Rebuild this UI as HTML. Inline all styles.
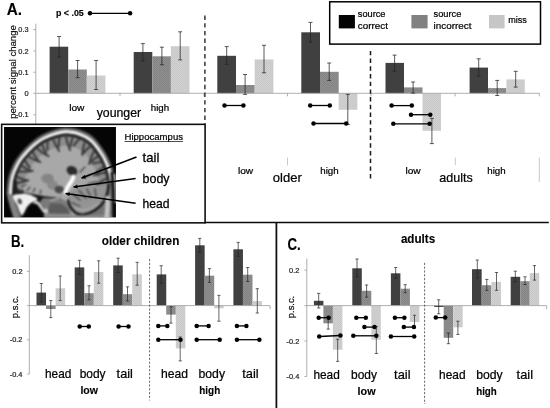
<!DOCTYPE html>
<html lang="en"><head><meta charset="utf-8"><title>Hippocampus figure</title>
<style>html,body{margin:0;padding:0;background:#fff;}svg{display:block;}text{font-family:'Liberation Sans', 'DejaVu Sans', sans-serif;}</style>
</head><body>
<svg width="550" height="408" viewBox="0 0 550 408">
<defs><filter id="b0" x="0" y="0" width="1" height="1" color-interpolation-filters="sRGB"><feConvolveMatrix order="3" kernelMatrix="1 2 1 2 4 2 1 2 1" divisor="16" edgeMode="duplicate" preserveAlpha="true"/></filter><filter id="b1" x="0" y="0" width="1" height="1" color-interpolation-filters="sRGB"><feConvolveMatrix order="3" kernelMatrix="1 2 1 2 4 2 1 2 1" divisor="16" edgeMode="duplicate" preserveAlpha="true"/><feConvolveMatrix order="3" kernelMatrix="1 2 1 2 4 2 1 2 1" divisor="16" edgeMode="duplicate" preserveAlpha="true"/></filter><pattern id="pm" width="2" height="2" patternUnits="userSpaceOnUse"><rect width="2" height="2" fill="#8f8f8f"/><rect width="1" height="1" fill="#848484"/><rect x="1" y="1" width="1" height="1" fill="#848484"/></pattern><pattern id="pl" width="2" height="2" patternUnits="userSpaceOnUse"><rect width="2" height="2" fill="#d1d1d1"/><rect width="1" height="1" fill="#c8c8c8"/><rect x="1" y="1" width="1" height="1" fill="#c8c8c8"/></pattern><clipPath id="mri"><rect x="4.2" y="126.9" width="111.6" height="90.4"/></clipPath><marker id="ah" viewBox="0 0 10 10" refX="9" refY="5" markerUnits="userSpaceOnUse" markerWidth="5" markerHeight="4.4" orient="auto"><path d="M0,0.5 L10,5 L0,9.5 z" fill="#000"/></marker></defs>
<rect x="0" y="0" width="550" height="408" fill="#fff"/>
<rect x="49.60" y="46.70" width="18.60" height="46.60" fill="#404040" />
<rect x="68.20" y="69.50" width="18.60" height="23.80" fill="url(#pm)" />
<rect x="86.80" y="75.50" width="18.60" height="17.80" fill="url(#pl)" />
<rect x="133.70" y="52.00" width="18.60" height="41.30" fill="#404040" />
<rect x="152.30" y="56.30" width="18.60" height="37.00" fill="url(#pm)" />
<rect x="170.90" y="46.20" width="18.60" height="47.10" fill="url(#pl)" />
<rect x="217.30" y="55.80" width="18.70" height="37.50" fill="#404040" />
<rect x="236.00" y="85.00" width="18.70" height="8.30" fill="url(#pm)" />
<rect x="254.70" y="59.40" width="18.70" height="33.90" fill="url(#pl)" />
<rect x="301.30" y="32.30" width="18.70" height="61.00" fill="#404040" />
<rect x="320.00" y="71.80" width="18.70" height="21.50" fill="url(#pm)" />
<rect x="338.70" y="93.30" width="18.70" height="16.50" fill="url(#pl)" />
<rect x="385.50" y="62.90" width="18.50" height="30.40" fill="#404040" />
<rect x="404.00" y="87.40" width="18.50" height="5.90" fill="url(#pm)" />
<rect x="422.50" y="93.30" width="18.50" height="37.50" fill="url(#pl)" />
<rect x="469.60" y="67.60" width="18.40" height="25.70" fill="#404040" />
<rect x="488.00" y="88.10" width="18.40" height="5.20" fill="url(#pm)" />
<rect x="506.40" y="79.40" width="18.40" height="13.90" fill="url(#pl)" />
<line x1="35.80" y1="23.70" x2="35.80" y2="124.20" stroke="#a6a6a6" stroke-width="0.9" />
<line x1="33.30" y1="93.30" x2="539.50" y2="93.30" stroke="#a6a6a6" stroke-width="0.9" />
<line x1="33.30" y1="29.60" x2="35.80" y2="29.60" stroke="#a6a6a6" stroke-width="0.9" />
<line x1="33.30" y1="50.90" x2="35.80" y2="50.90" stroke="#a6a6a6" stroke-width="0.9" />
<line x1="33.30" y1="72.20" x2="35.80" y2="72.20" stroke="#a6a6a6" stroke-width="0.9" />
<line x1="33.30" y1="114.80" x2="35.80" y2="114.80" stroke="#a6a6a6" stroke-width="0.9" />
<line x1="120.00" y1="93.30" x2="120.00" y2="96.30" stroke="#a6a6a6" stroke-width="0.9" />
<line x1="204.00" y1="93.30" x2="204.00" y2="96.30" stroke="#a6a6a6" stroke-width="0.9" />
<line x1="287.50" y1="93.30" x2="287.50" y2="96.30" stroke="#a6a6a6" stroke-width="0.9" />
<line x1="371.00" y1="93.30" x2="371.00" y2="96.30" stroke="#a6a6a6" stroke-width="0.9" />
<line x1="455.10" y1="93.30" x2="455.10" y2="96.30" stroke="#a6a6a6" stroke-width="0.9" />
<line x1="539.30" y1="93.30" x2="539.30" y2="96.30" stroke="#a6a6a6" stroke-width="0.9" />
<line x1="59.10" y1="36.50" x2="59.10" y2="56.90" stroke="#242424" stroke-width="0.75" />
<line x1="57.10" y1="36.50" x2="61.10" y2="36.50" stroke="#242424" stroke-width="0.75" />
<line x1="57.10" y1="56.90" x2="61.10" y2="56.90" stroke="#242424" stroke-width="0.75" />
<line x1="77.60" y1="60.50" x2="77.60" y2="77.70" stroke="#242424" stroke-width="0.75" />
<line x1="75.60" y1="60.50" x2="79.60" y2="60.50" stroke="#242424" stroke-width="0.75" />
<line x1="75.60" y1="77.70" x2="79.60" y2="77.70" stroke="#242424" stroke-width="0.75" />
<line x1="96.10" y1="60.50" x2="96.10" y2="89.50" stroke="#242424" stroke-width="0.75" />
<line x1="94.10" y1="60.50" x2="98.10" y2="60.50" stroke="#242424" stroke-width="0.75" />
<line x1="94.10" y1="89.50" x2="98.10" y2="89.50" stroke="#242424" stroke-width="0.75" />
<line x1="142.90" y1="43.60" x2="142.90" y2="60.90" stroke="#242424" stroke-width="0.75" />
<line x1="140.90" y1="43.60" x2="144.90" y2="43.60" stroke="#242424" stroke-width="0.75" />
<line x1="140.90" y1="60.90" x2="144.90" y2="60.90" stroke="#242424" stroke-width="0.75" />
<line x1="161.90" y1="47.20" x2="161.90" y2="64.80" stroke="#242424" stroke-width="0.75" />
<line x1="159.90" y1="47.20" x2="163.90" y2="47.20" stroke="#242424" stroke-width="0.75" />
<line x1="159.90" y1="64.80" x2="163.90" y2="64.80" stroke="#242424" stroke-width="0.75" />
<line x1="180.20" y1="31.80" x2="180.20" y2="59.90" stroke="#242424" stroke-width="0.75" />
<line x1="178.20" y1="31.80" x2="182.20" y2="31.80" stroke="#242424" stroke-width="0.75" />
<line x1="178.20" y1="59.90" x2="182.20" y2="59.90" stroke="#242424" stroke-width="0.75" />
<line x1="226.70" y1="46.60" x2="226.70" y2="64.30" stroke="#242424" stroke-width="0.75" />
<line x1="224.70" y1="46.60" x2="228.70" y2="46.60" stroke="#242424" stroke-width="0.75" />
<line x1="224.70" y1="64.30" x2="228.70" y2="64.30" stroke="#242424" stroke-width="0.75" />
<line x1="245.10" y1="74.50" x2="245.10" y2="94.40" stroke="#242424" stroke-width="0.75" />
<line x1="243.10" y1="74.50" x2="247.10" y2="74.50" stroke="#242424" stroke-width="0.75" />
<line x1="243.10" y1="94.40" x2="247.10" y2="94.40" stroke="#242424" stroke-width="0.75" />
<line x1="264.00" y1="45.30" x2="264.00" y2="72.80" stroke="#242424" stroke-width="0.75" />
<line x1="262.00" y1="45.30" x2="266.00" y2="45.30" stroke="#242424" stroke-width="0.75" />
<line x1="262.00" y1="72.80" x2="266.00" y2="72.80" stroke="#242424" stroke-width="0.75" />
<line x1="310.50" y1="22.40" x2="310.50" y2="42.10" stroke="#242424" stroke-width="0.75" />
<line x1="308.50" y1="22.40" x2="312.50" y2="22.40" stroke="#242424" stroke-width="0.75" />
<line x1="308.50" y1="42.10" x2="312.50" y2="42.10" stroke="#242424" stroke-width="0.75" />
<line x1="329.20" y1="63.00" x2="329.20" y2="80.40" stroke="#242424" stroke-width="0.75" />
<line x1="327.20" y1="63.00" x2="331.20" y2="63.00" stroke="#242424" stroke-width="0.75" />
<line x1="327.20" y1="80.40" x2="331.20" y2="80.40" stroke="#242424" stroke-width="0.75" />
<line x1="347.80" y1="94.40" x2="347.80" y2="124.50" stroke="#242424" stroke-width="0.75" />
<line x1="345.80" y1="94.40" x2="349.80" y2="94.40" stroke="#242424" stroke-width="0.75" />
<line x1="345.80" y1="124.50" x2="349.80" y2="124.50" stroke="#242424" stroke-width="0.75" />
<line x1="394.60" y1="55.10" x2="394.60" y2="71.30" stroke="#242424" stroke-width="0.75" />
<line x1="392.60" y1="55.10" x2="396.60" y2="55.10" stroke="#242424" stroke-width="0.75" />
<line x1="392.60" y1="71.30" x2="396.60" y2="71.30" stroke="#242424" stroke-width="0.75" />
<line x1="413.10" y1="82.00" x2="413.10" y2="93.10" stroke="#242424" stroke-width="0.75" />
<line x1="411.10" y1="82.00" x2="415.10" y2="82.00" stroke="#242424" stroke-width="0.75" />
<line x1="411.10" y1="93.10" x2="415.10" y2="93.10" stroke="#242424" stroke-width="0.75" />
<line x1="431.90" y1="118.40" x2="431.90" y2="143.60" stroke="#242424" stroke-width="0.75" />
<line x1="429.90" y1="118.40" x2="433.90" y2="118.40" stroke="#242424" stroke-width="0.75" />
<line x1="429.90" y1="143.60" x2="433.90" y2="143.60" stroke="#242424" stroke-width="0.75" />
<line x1="478.70" y1="58.80" x2="478.70" y2="76.00" stroke="#242424" stroke-width="0.75" />
<line x1="476.70" y1="58.80" x2="480.70" y2="58.80" stroke="#242424" stroke-width="0.75" />
<line x1="476.70" y1="76.00" x2="480.70" y2="76.00" stroke="#242424" stroke-width="0.75" />
<line x1="497.20" y1="80.40" x2="497.20" y2="95.50" stroke="#242424" stroke-width="0.75" />
<line x1="495.20" y1="80.40" x2="499.20" y2="80.40" stroke="#242424" stroke-width="0.75" />
<line x1="495.20" y1="95.50" x2="499.20" y2="95.50" stroke="#242424" stroke-width="0.75" />
<line x1="515.70" y1="71.30" x2="515.70" y2="87.10" stroke="#242424" stroke-width="0.75" />
<line x1="513.70" y1="71.30" x2="517.70" y2="71.30" stroke="#242424" stroke-width="0.75" />
<line x1="513.70" y1="87.10" x2="517.70" y2="87.10" stroke="#242424" stroke-width="0.75" />
<text x="28.60" y="32.20" font-size="7.4" font-weight="normal" fill="#262626" text-anchor="end"  stroke="#262626" stroke-width="0.22">0.3</text>
<text x="28.60" y="53.50" font-size="7.4" font-weight="normal" fill="#262626" text-anchor="end"  stroke="#262626" stroke-width="0.22">0.2</text>
<text x="28.60" y="74.80" font-size="7.4" font-weight="normal" fill="#262626" text-anchor="end"  stroke="#262626" stroke-width="0.22">0.1</text>
<text x="28.60" y="96.00" font-size="7.4" font-weight="normal" fill="#262626" text-anchor="end"  stroke="#262626" stroke-width="0.22">0</text>
<text x="28.60" y="117.40" font-size="7.4" font-weight="normal" fill="#262626" text-anchor="end"  stroke="#262626" stroke-width="0.22">-0.1</text>
<text transform="translate(15.6,72) rotate(-90)" font-size="9.3" text-anchor="middle" textLength="93.6" lengthAdjust="spacingAndGlyphs" fill="#111" stroke="#111" stroke-width="0.2">percent signal change</text>
<text x="6.70" y="14.70" font-size="15.8" font-weight="bold" fill="#000" text-anchor="start" textLength="15.30" lengthAdjust="spacingAndGlyphs"  stroke="#000" stroke-width="0.12">A.</text>
<text x="55.90" y="16.40" font-size="8.3" font-weight="bold" fill="#000" text-anchor="start" textLength="27.90" lengthAdjust="spacingAndGlyphs"  stroke="#000" stroke-width="0.12">p &lt; .05</text>
<line x1="90.00" y1="13.30" x2="130.10" y2="13.30" stroke="#000" stroke-width="1.3" />
<circle cx="90.00" cy="13.30" r="2.25" fill="#000"/>
<circle cx="130.10" cy="13.30" r="2.25" fill="#000"/>
<line x1="204.90" y1="15.50" x2="204.90" y2="124.00" stroke="#363636" stroke-width="1.5" stroke-dasharray="4.4 3.3"/>
<line x1="370.50" y1="50.90" x2="370.50" y2="181.50" stroke="#1a1a1a" stroke-width="1.5" stroke-dasharray="4.4 3.3"/>
<text x="76.80" y="110.60" font-size="9.7" font-weight="normal" fill="#000" text-anchor="middle" textLength="15.20" lengthAdjust="spacingAndGlyphs"  stroke="#000" stroke-width="0.22">low</text>
<text x="160.00" y="110.60" font-size="9.7" font-weight="normal" fill="#000" text-anchor="middle" textLength="18.40" lengthAdjust="spacingAndGlyphs"  stroke="#000" stroke-width="0.22">high</text>
<text x="118.90" y="117.40" font-size="13" font-weight="normal" fill="#000" text-anchor="middle" textLength="44.50" lengthAdjust="spacingAndGlyphs"  stroke="#000" stroke-width="0.22">younger</text>
<text x="245.50" y="174.00" font-size="9.7" font-weight="normal" fill="#000" text-anchor="middle" textLength="15.20" lengthAdjust="spacingAndGlyphs"  stroke="#000" stroke-width="0.22">low</text>
<text x="329.50" y="174.00" font-size="9.7" font-weight="normal" fill="#000" text-anchor="middle" textLength="18.40" lengthAdjust="spacingAndGlyphs"  stroke="#000" stroke-width="0.22">high</text>
<text x="287.30" y="182.00" font-size="13" font-weight="normal" fill="#000" text-anchor="middle" textLength="29.00" lengthAdjust="spacingAndGlyphs"  stroke="#000" stroke-width="0.22">older</text>
<text x="413.00" y="174.00" font-size="9.7" font-weight="normal" fill="#000" text-anchor="middle" textLength="15.20" lengthAdjust="spacingAndGlyphs"  stroke="#000" stroke-width="0.22">low</text>
<text x="496.50" y="174.00" font-size="9.7" font-weight="normal" fill="#000" text-anchor="middle" textLength="18.40" lengthAdjust="spacingAndGlyphs"  stroke="#000" stroke-width="0.22">high</text>
<text x="456.00" y="182.00" font-size="13" font-weight="normal" fill="#000" text-anchor="middle" textLength="33.40" lengthAdjust="spacingAndGlyphs"  stroke="#000" stroke-width="0.22">adults</text>
<line x1="287.50" y1="157.50" x2="287.50" y2="165.50" stroke="#c4c4c4" stroke-width="0.9" />
<line x1="455.30" y1="157.50" x2="455.30" y2="165.00" stroke="#c4c4c4" stroke-width="0.9" />
<line x1="539.30" y1="157.50" x2="539.30" y2="182.00" stroke="#c4c4c4" stroke-width="0.9" />
<line x1="224.50" y1="105.50" x2="243.40" y2="105.50" stroke="#000" stroke-width="1.3" />
<circle cx="224.50" cy="105.50" r="2.25" fill="#000"/>
<circle cx="243.40" cy="105.50" r="2.25" fill="#000"/>
<line x1="310.20" y1="105.50" x2="329.80" y2="105.50" stroke="#000" stroke-width="1.3" />
<circle cx="310.20" cy="105.50" r="2.25" fill="#000"/>
<circle cx="329.80" cy="105.50" r="2.25" fill="#000"/>
<line x1="313.50" y1="123.50" x2="346.20" y2="123.50" stroke="#000" stroke-width="1.3" />
<circle cx="313.50" cy="123.50" r="2.25" fill="#000"/>
<circle cx="346.20" cy="123.50" r="2.25" fill="#000"/>
<line x1="391.60" y1="105.60" x2="411.80" y2="105.60" stroke="#000" stroke-width="1.3" />
<circle cx="391.60" cy="105.60" r="2.25" fill="#000"/>
<circle cx="411.80" cy="105.60" r="2.25" fill="#000"/>
<line x1="411.00" y1="114.70" x2="430.30" y2="114.70" stroke="#000" stroke-width="1.3" />
<circle cx="411.00" cy="114.70" r="2.25" fill="#000"/>
<circle cx="430.30" cy="114.70" r="2.25" fill="#000"/>
<line x1="393.30" y1="123.80" x2="429.60" y2="123.80" stroke="#000" stroke-width="1.3" />
<circle cx="393.30" cy="123.80" r="2.25" fill="#000"/>
<circle cx="429.60" cy="123.80" r="2.25" fill="#000"/>
<rect x="329.7" y="1.8" width="210.8" height="42.3" fill="#fff" stroke="#000" stroke-width="1.5"/>
<rect x="338.80" y="15.00" width="16.10" height="13.40" fill="#040404" />
<rect x="411.40" y="15.00" width="16.20" height="13.40" fill="#818181" />
<rect x="489.00" y="15.00" width="15.60" height="13.40" fill="#c6c6c6" />
<text x="357.80" y="16.50" font-size="9.6" font-weight="normal" fill="#000" text-anchor="start" textLength="27.70" lengthAdjust="spacingAndGlyphs"  stroke="#000" stroke-width="0.22">source</text>
<text x="357.80" y="28.90" font-size="9.6" font-weight="normal" fill="#000" text-anchor="start" textLength="30.10" lengthAdjust="spacingAndGlyphs"  stroke="#000" stroke-width="0.22">correct</text>
<text x="433.60" y="16.50" font-size="9.6" font-weight="normal" fill="#000" text-anchor="start" textLength="27.70" lengthAdjust="spacingAndGlyphs"  stroke="#000" stroke-width="0.22">source</text>
<text x="433.60" y="28.90" font-size="9.6" font-weight="normal" fill="#000" text-anchor="start" textLength="37.80" lengthAdjust="spacingAndGlyphs"  stroke="#000" stroke-width="0.22">incorrect</text>
<text x="508.20" y="22.80" font-size="9.6" font-weight="normal" fill="#000" text-anchor="start" textLength="18.60" lengthAdjust="spacingAndGlyphs"  stroke="#000" stroke-width="0.22">miss</text>
<rect x="1.65" y="124.35" width="203.45" height="98.5" fill="#fff" stroke="#111" stroke-width="1.6"/>
<g clip-path="url(#mri)">
<rect x="4" y="127" width="113" height="91" fill="#050505"/>
<g filter="url(#b1)">
<rect x="0" y="122" width="122" height="102" fill="#050505"/>
<path d="M6.40,197.00 C6.48,195.33 6.60,190.17 6.90,187.00 C7.20,183.83 7.52,180.92 8.20,178.00 C8.88,175.08 9.53,172.83 11.00,169.50 C12.47,166.17 14.17,162.02 17.00,158.00 C19.83,153.98 23.83,149.27 28.00,145.40 C32.17,141.53 36.67,137.65 42.00,134.80 C47.33,131.95 55.00,129.43 60.00,128.30 C65.00,127.17 68.25,127.58 72.00,128.00 C75.75,128.42 78.87,129.22 82.50,130.80 C86.13,132.38 90.05,133.97 93.80,137.50 C97.55,141.03 102.18,147.67 105.00,152.00 C107.82,156.33 109.27,160.17 110.70,163.50 C112.13,166.83 112.75,168.42 113.60,172.00 C114.45,175.58 115.32,180.33 115.80,185.00 C116.28,189.67 116.47,194.33 116.50,200.00 C116.53,205.67 116.08,215.83 116.00,219.00 L116.00,222 L6.40,222 Z" fill="#6a6a6a"/>
<path d="M9.07,196.47 C9.15,194.89 9.26,189.97 9.54,186.95 C9.83,183.94 10.13,181.16 10.78,178.38 C11.43,175.61 12.05,173.47 13.45,170.29 C14.84,167.12 16.46,163.17 19.16,159.34 C21.86,155.52 25.67,151.03 29.63,147.35 C33.60,143.67 37.88,139.97 42.96,137.26 C48.04,134.54 55.34,132.15 60.10,131.07 C64.86,129.99 67.95,130.39 71.52,130.78 C75.09,131.18 78.06,131.94 81.52,133.45 C84.97,134.96 88.70,136.46 92.27,139.83 C95.84,143.19 100.25,149.51 102.94,153.63 C105.62,157.76 107.00,161.41 108.36,164.58 C109.73,167.75 110.31,169.26 111.12,172.67 C111.93,176.08 112.76,180.61 113.22,185.05 C113.68,189.49 113.85,193.93 113.88,199.33 C113.92,204.72 113.49,214.40 113.41,217.42 L113.41,222 L9.07,222 Z" fill="#fafafa"/>
<path d="M11.85,195.92 C11.92,194.42 12.03,189.76 12.30,186.90 C12.57,184.05 12.86,181.41 13.47,178.78 C14.09,176.15 14.68,174.12 16.00,171.12 C17.32,168.11 18.85,164.37 21.41,160.74 C23.97,157.12 27.57,152.87 31.33,149.38 C35.09,145.89 39.15,142.39 43.96,139.82 C48.77,137.25 55.69,134.98 60.20,133.95 C64.71,132.93 67.64,133.31 71.02,133.68 C74.40,134.06 77.21,134.78 80.49,136.21 C83.77,137.64 87.30,139.07 90.68,142.25 C94.07,145.44 98.25,151.42 100.79,155.33 C103.33,159.24 104.63,162.70 105.93,165.70 C107.22,168.71 107.78,170.14 108.54,173.37 C109.31,176.60 110.09,180.89 110.53,185.10 C110.96,189.31 111.13,193.52 111.16,198.63 C111.19,203.74 110.78,212.91 110.71,215.77 L110.71,222 L11.85,222 Z" fill="#262626"/>
<path d="M14.96,195.31 C15.03,193.90 15.13,189.53 15.39,186.85 C15.64,184.17 15.91,181.70 16.49,179.23 C17.06,176.76 17.61,174.86 18.85,172.04 C20.09,169.22 21.53,165.71 23.93,162.31 C26.33,158.91 29.71,154.92 33.24,151.65 C36.76,148.38 40.57,145.10 45.08,142.68 C49.59,140.27 56.08,138.14 60.31,137.19 C64.54,136.23 67.29,136.58 70.46,136.93 C73.63,137.28 76.27,137.96 79.34,139.30 C82.42,140.64 85.73,141.98 88.90,144.97 C92.08,147.96 96.00,153.57 98.38,157.24 C100.76,160.90 101.99,164.15 103.20,166.97 C104.41,169.78 104.93,171.12 105.65,174.16 C106.37,177.19 107.11,181.21 107.51,185.15 C107.92,189.10 108.08,193.05 108.11,197.84 C108.14,202.64 107.75,211.24 107.68,213.92 L107.68,222 L14.96,222 Z" fill="#8e8e8e"/>
<path d="M23.64,193.59 C23.69,192.44 23.77,188.88 23.98,186.69 C24.19,184.50 24.41,182.49 24.88,180.48 C25.35,178.47 25.80,176.92 26.81,174.62 C27.82,172.31 29.00,169.45 30.95,166.68 C32.91,163.91 35.67,160.65 38.54,157.99 C41.42,155.32 44.52,152.64 48.20,150.67 C51.88,148.71 57.17,146.97 60.62,146.19 C64.07,145.41 66.31,145.69 68.90,145.98 C71.49,146.27 73.64,146.82 76.14,147.91 C78.65,149.00 81.35,150.10 83.94,152.53 C86.53,154.97 89.73,159.55 91.67,162.54 C93.61,165.53 94.61,168.17 95.60,170.47 C96.59,172.78 97.02,173.87 97.60,176.34 C98.19,178.81 98.79,182.09 99.12,185.31 C99.46,188.53 99.58,191.75 99.60,195.66 C99.63,199.57 99.32,206.59 99.26,208.77 L99.26,222 L23.64,222 Z" fill="#a8a8a8"/>
<g stroke="#363636" stroke-width="2.0" fill="none" stroke-linecap="round">
<path d="M15.9,189.2 Q19.3,191.0 23.1,191.3"/>
<path d="M16.5,183.1 Q22.6,182.5 28.2,180.3"/>
<path d="M17.7,177.2 Q21.7,179.5 26.2,180.3"/>
<path d="M19.8,171.6 Q26.4,172.0 32.8,170.7"/>
<path d="M22.5,166.4 Q25.8,168.9 29.9,170.1"/>
<path d="M25.5,161.4 Q27.1,164.9 29.9,167.5"/>
<path d="M29.3,157.0 Q34.5,160.2 40.3,162.0"/>
<path d="M33.1,152.5 Q34.8,156.8 37.9,160.1"/>
<path d="M37.7,148.9 Q42.7,153.2 48.5,156.2"/>
<path d="M42.5,145.4 Q43.6,149.5 46.1,152.9"/>
<path d="M47.8,142.4 Q46.9,146.1 47.6,149.9"/>
<path d="M53.6,140.4 Q55.7,146.1 59.2,151.0"/>
<path d="M59.6,137.8 Q58.4,142.2 58.7,146.8"/>
<path d="M66.1,137.6 Q67.3,144.0 70.1,150.0"/>
<path d="M72.5,138.1 Q70.8,142.0 70.7,146.3"/>
<path d="M78.8,139.8 Q75.8,142.2 74.0,145.5"/>
<path d="M84.4,143.1 Q82.6,148.9 82.3,154.9"/>
<path d="M89.6,146.9 Q85.9,149.6 83.3,153.4"/>
<path d="M93.6,151.9 Q90.6,157.7 89.2,164.1"/>
<path d="M97.3,156.8 Q93.6,158.8 90.9,162.1"/>
<path d="M100.1,162.2 Q96.3,162.2 92.8,163.7"/>
<path d="M102.8,167.5 Q97.8,170.9 93.8,175.5"/>
<path d="M104.7,173.1 Q100.1,173.0 95.8,174.4"/>
<path d="M105.9,178.9 Q99.9,181.7 94.9,185.8"/>
<path d="M106.9,184.7 Q102.7,184.1 98.6,185.0"/>
<path d="M107.3,190.8 Q104.3,188.4 100.6,187.5"/>
<path d="M107.7,197.0 Q101.6,196.6 95.7,197.8"/>
</g>
<path d="M12.6,196 L13,193.5 L20,191.8 L34,194.2 L46,196.6 L58,197.4 L64,201 L68,210 L70,222 L18,222 L14,206 Z" fill="#151515"/>
<path d="M12.8,180 L16.6,180 L17.6,190 L20,192.4 L13,194.4 Z" fill="#1e1e1e"/>
<path d="M4,195.5 L13,194.5 L14,222 L4,222 Z" fill="#050505"/>
<path d="M7.4,194 L12.6,194 L13,198 L16.4,206 L21,218 L13.4,218 L10,207 L7.6,198 Z" fill="#828282"/>
<path d="M12.6,196 L15,194.6 L25,193.4 L31,195 L37.5,198.4 L36,200.6 L30,203.4 L26.4,208 L24.4,212.4 L21.6,216 L19.6,212 L17,205 L13.4,199 Z" fill="#f0f0f0"/>
<ellipse cx="19.8" cy="201.4" rx="2.1" ry="3.0" fill="#4e4e4e" transform="rotate(-20 19.8 201.4)"/>
<path d="M36,200 L39.5,202.5 L43,207.5 L45.6,212.5 L43.6,213 L40,208 L36.6,204 L33,203.4 Z" fill="#d0d0d0"/>
<path d="M27.5,206.4 L33,203.8 L37,204.6 L40.6,209.6 L43,214 L43.6,218 L22,218 L24.6,212.6 Z" fill="#050505"/>
<path d="M43,198 L58,198.4 L66,201 L69,206 L71,212 L71,218 L45,218 L45.6,212 L43,207 L39.6,202.4 Z" fill="#7a7a7a"/>
<path d="M50,203 L62,204 L68,209 L70,218 L52,218 L48,211 Z" fill="#5c5c5c"/>
<path d="M44,213.4 L72,214 L72,218 L44,218 Z" fill="#8c8c8c"/>
<ellipse cx="46" cy="211" rx="2.2" ry="2.6" fill="#cfcfcf"/>
<path d="M104,183 L112,180 L114,196 L112,218 L84,218 L96,208 L103,198 Z" fill="#747474"/>
<path d="M68,199.6 C67,192 74,186.5 86,185.6 C96,185 105,183.6 108.4,184 C108,192 106.4,197 103.6,201.4 C99.6,208 91,213.6 82.6,214.6 C77,214.4 73,211 70.6,206.6 Z" fill="#949494"/>
<path d="M108.6,183.6 C108.2,192 106.6,197 103.8,201.6 C99.8,208.2 91,213.8 82.6,214.8 C77,214.6 72.6,211 70.2,206.6 C69,204 68.2,202 68,199.6" fill="none" stroke="#141414" stroke-width="2.3"/>
<path d="M75,207.4 C81,212 91,211 98.4,203" stroke="#a2a2a2" stroke-width="3" fill="none"/>
<path d="M70,215.2 L112,215.2 L112,218 L70,218 Z" fill="#8a8a8a"/>
<path d="M107.6,196 C107.8,204 107.4,212 106.6,219" stroke="#c4c4c4" stroke-width="4.6" fill="none"/>
<path d="M111.6,172 C113.2,186 113.6,196 113.4,204 L113.4,219" stroke="#0a0a0a" stroke-width="2.6" fill="none"/>
<path d="M114.8,174 C116,186 116.2,196 116,203" stroke="#dcdcdc" stroke-width="1.6" fill="none"/>
<path d="M116,203 L116,219" stroke="#0a0a0a" stroke-width="4" fill="none"/>
<ellipse cx="47.6" cy="178.6" rx="6.4" ry="4.8" fill="#848484"/>
<ellipse cx="52.5" cy="185.0" rx="5.4" ry="4.6" fill="#888888"/>
<ellipse cx="72.2" cy="170.4" rx="5.6" ry="4.5" fill="#2a2a2a" transform="rotate(28 71.4 170.2)"/>
<ellipse cx="59.2" cy="189.6" rx="4.7" ry="3.9" fill="#4a4a4a"/>
<path d="M62,196 L56,199 L50,200.6" stroke="#9c9c9c" stroke-width="2.4" fill="none"/>
<g stroke="#404040" stroke-width="1.3" fill="none" stroke-linecap="round">
<path d="M84,178 l7,-3.5"/><path d="M88,184 l9,-2.4"/><path d="M97,176 l6,-4"/><path d="M80,172 l5,-5"/>
<path d="M73,194 l7,6"/><path d="M79,190.5 l7,8"/><path d="M87,189 l4,9"/><path d="M95,188.6 l1,9"/><path d="M72,202.5 l8,4"/>
<path d="M22,186.5 l4,-2"/><path d="M27,190.5 l3,-3.4"/><path d="M33,192 l2,-3.6"/><path d="M40,193.6 l1,-3.4"/>
</g>
<path d="M73.4,176.6 C73,179.6 71,182.4 69,185 C67.4,187.4 66.4,189.6 65.2,192" stroke="#ffffff" stroke-width="4.0" fill="none" stroke-linecap="round"/>
</g>
</g>
<text x="124.50" y="139.60" font-size="9.8" font-weight="normal" fill="#000" text-anchor="start" textLength="58.50" lengthAdjust="spacingAndGlyphs"  stroke="#000" stroke-width="0.22">Hippocampus</text>
<line x1="124.50" y1="141.50" x2="183.00" y2="141.50" stroke="#000" stroke-width="0.7" />
<text x="142.60" y="161.60" font-size="13" font-weight="normal" fill="#000" text-anchor="start" textLength="16.70" lengthAdjust="spacingAndGlyphs"  stroke="#000" stroke-width="0.3">tail</text>
<text x="142.60" y="183.40" font-size="13" font-weight="normal" fill="#000" text-anchor="start" textLength="27.00" lengthAdjust="spacingAndGlyphs"  stroke="#000" stroke-width="0.3">body</text>
<text x="142.60" y="208.20" font-size="13" font-weight="normal" fill="#000" text-anchor="start" textLength="27.00" lengthAdjust="spacingAndGlyphs"  stroke="#000" stroke-width="0.3">head</text>
<line x1="136.50" y1="157.00" x2="81.60" y2="178.00" stroke="#000" stroke-width="1.5" marker-end="url(#ah)"/>
<line x1="135.60" y1="178.40" x2="73.60" y2="187.00" stroke="#000" stroke-width="1.5" marker-end="url(#ah)"/>
<line x1="135.60" y1="203.20" x2="65.60" y2="193.60" stroke="#000" stroke-width="1.5" marker-end="url(#ah)"/>
<line x1="204.40" y1="222.50" x2="548.80" y2="222.50" stroke="#0a0a0a" stroke-width="1.5" />
<line x1="276.40" y1="222.00" x2="276.40" y2="408.00" stroke="#111" stroke-width="1.8" />
<rect x="36.50" y="292.60" width="9.55" height="13.00" fill="#404040" />
<rect x="46.05" y="305.60" width="9.55" height="3.40" fill="url(#pm)" />
<rect x="55.60" y="288.30" width="9.55" height="17.30" fill="url(#pl)" />
<rect x="74.70" y="267.40" width="9.55" height="38.20" fill="#404040" />
<rect x="84.25" y="293.20" width="9.55" height="12.40" fill="url(#pm)" />
<rect x="93.80" y="272.00" width="9.55" height="33.60" fill="url(#pl)" />
<rect x="113.20" y="265.40" width="9.55" height="40.20" fill="#404040" />
<rect x="122.75" y="294.20" width="9.55" height="11.40" fill="url(#pm)" />
<rect x="132.30" y="274.30" width="9.55" height="31.30" fill="url(#pl)" />
<rect x="156.70" y="274.40" width="9.55" height="31.20" fill="#404040" />
<rect x="166.25" y="305.60" width="9.55" height="9.00" fill="url(#pm)" />
<rect x="175.80" y="305.60" width="9.55" height="42.80" fill="url(#pl)" />
<rect x="195.10" y="245.30" width="9.55" height="60.30" fill="#404040" />
<rect x="204.65" y="275.70" width="9.55" height="29.90" fill="url(#pm)" />
<rect x="214.20" y="305.60" width="9.55" height="2.70" fill="url(#pl)" />
<rect x="233.40" y="249.30" width="9.55" height="56.30" fill="#404040" />
<rect x="242.95" y="274.70" width="9.55" height="30.90" fill="url(#pm)" />
<rect x="252.50" y="301.10" width="9.55" height="4.50" fill="url(#pl)" />
<line x1="29.30" y1="255.20" x2="29.30" y2="374.00" stroke="#a6a6a6" stroke-width="0.9" />
<line x1="26.90" y1="305.60" x2="270.00" y2="305.60" stroke="#a6a6a6" stroke-width="0.9" />
<line x1="270.00" y1="305.60" x2="270.00" y2="309.10" stroke="#a6a6a6" stroke-width="0.9" />
<line x1="26.90" y1="271.30" x2="29.30" y2="271.30" stroke="#a6a6a6" stroke-width="0.9" />
<line x1="26.90" y1="339.80" x2="29.30" y2="339.80" stroke="#a6a6a6" stroke-width="0.9" />
<line x1="26.90" y1="374.00" x2="29.30" y2="374.00" stroke="#a6a6a6" stroke-width="0.9" />
<line x1="41.30" y1="283.50" x2="41.30" y2="301.80" stroke="#242424" stroke-width="0.7" />
<line x1="39.70" y1="283.50" x2="42.90" y2="283.50" stroke="#242424" stroke-width="0.7" />
<line x1="39.70" y1="301.80" x2="42.90" y2="301.80" stroke="#242424" stroke-width="0.7" />
<line x1="50.80" y1="300.60" x2="50.80" y2="317.60" stroke="#242424" stroke-width="0.7" />
<line x1="49.20" y1="300.60" x2="52.40" y2="300.60" stroke="#242424" stroke-width="0.7" />
<line x1="49.20" y1="317.60" x2="52.40" y2="317.60" stroke="#242424" stroke-width="0.7" />
<line x1="60.20" y1="276.00" x2="60.20" y2="300.60" stroke="#242424" stroke-width="0.7" />
<line x1="58.60" y1="276.00" x2="61.80" y2="276.00" stroke="#242424" stroke-width="0.7" />
<line x1="58.60" y1="300.60" x2="61.80" y2="300.60" stroke="#242424" stroke-width="0.7" />
<line x1="79.60" y1="260.30" x2="79.60" y2="274.30" stroke="#242424" stroke-width="0.7" />
<line x1="78.00" y1="260.30" x2="81.20" y2="260.30" stroke="#242424" stroke-width="0.7" />
<line x1="78.00" y1="274.30" x2="81.20" y2="274.30" stroke="#242424" stroke-width="0.7" />
<line x1="89.00" y1="285.80" x2="89.00" y2="299.80" stroke="#242424" stroke-width="0.7" />
<line x1="87.40" y1="285.80" x2="90.60" y2="285.80" stroke="#242424" stroke-width="0.7" />
<line x1="87.40" y1="299.80" x2="90.60" y2="299.80" stroke="#242424" stroke-width="0.7" />
<line x1="98.70" y1="260.80" x2="98.70" y2="283.20" stroke="#242424" stroke-width="0.7" />
<line x1="97.10" y1="260.80" x2="100.30" y2="260.80" stroke="#242424" stroke-width="0.7" />
<line x1="97.10" y1="283.20" x2="100.30" y2="283.20" stroke="#242424" stroke-width="0.7" />
<line x1="118.10" y1="258.20" x2="118.10" y2="272.50" stroke="#242424" stroke-width="0.7" />
<line x1="116.50" y1="258.20" x2="119.70" y2="258.20" stroke="#242424" stroke-width="0.7" />
<line x1="116.50" y1="272.50" x2="119.70" y2="272.50" stroke="#242424" stroke-width="0.7" />
<line x1="127.50" y1="286.80" x2="127.50" y2="301.00" stroke="#242424" stroke-width="0.7" />
<line x1="125.90" y1="286.80" x2="129.10" y2="286.80" stroke="#242424" stroke-width="0.7" />
<line x1="125.90" y1="301.00" x2="129.10" y2="301.00" stroke="#242424" stroke-width="0.7" />
<line x1="137.20" y1="262.30" x2="137.20" y2="285.20" stroke="#242424" stroke-width="0.7" />
<line x1="135.60" y1="262.30" x2="138.80" y2="262.30" stroke="#242424" stroke-width="0.7" />
<line x1="135.60" y1="285.20" x2="138.80" y2="285.20" stroke="#242424" stroke-width="0.7" />
<line x1="161.20" y1="265.70" x2="161.20" y2="283.40" stroke="#242424" stroke-width="0.7" />
<line x1="159.60" y1="265.70" x2="162.80" y2="265.70" stroke="#242424" stroke-width="0.7" />
<line x1="159.60" y1="283.40" x2="162.80" y2="283.40" stroke="#242424" stroke-width="0.7" />
<line x1="171.00" y1="306.70" x2="171.00" y2="323.10" stroke="#242424" stroke-width="0.7" />
<line x1="169.40" y1="306.70" x2="172.60" y2="306.70" stroke="#242424" stroke-width="0.7" />
<line x1="169.40" y1="323.10" x2="172.60" y2="323.10" stroke="#242424" stroke-width="0.7" />
<line x1="180.20" y1="337.00" x2="180.20" y2="360.90" stroke="#242424" stroke-width="0.7" />
<line x1="178.60" y1="337.00" x2="181.80" y2="337.00" stroke="#242424" stroke-width="0.7" />
<line x1="178.60" y1="360.90" x2="181.80" y2="360.90" stroke="#242424" stroke-width="0.7" />
<line x1="199.80" y1="238.40" x2="199.80" y2="252.20" stroke="#242424" stroke-width="0.7" />
<line x1="198.20" y1="238.40" x2="201.40" y2="238.40" stroke="#242424" stroke-width="0.7" />
<line x1="198.20" y1="252.20" x2="201.40" y2="252.20" stroke="#242424" stroke-width="0.7" />
<line x1="209.40" y1="268.60" x2="209.40" y2="282.30" stroke="#242424" stroke-width="0.7" />
<line x1="207.80" y1="268.60" x2="211.00" y2="268.60" stroke="#242424" stroke-width="0.7" />
<line x1="207.80" y1="282.30" x2="211.00" y2="282.30" stroke="#242424" stroke-width="0.7" />
<line x1="218.90" y1="295.30" x2="218.90" y2="321.20" stroke="#242424" stroke-width="0.7" />
<line x1="217.30" y1="295.30" x2="220.50" y2="295.30" stroke="#242424" stroke-width="0.7" />
<line x1="217.30" y1="321.20" x2="220.50" y2="321.20" stroke="#242424" stroke-width="0.7" />
<line x1="238.20" y1="242.40" x2="238.20" y2="256.40" stroke="#242424" stroke-width="0.7" />
<line x1="236.60" y1="242.40" x2="239.80" y2="242.40" stroke="#242424" stroke-width="0.7" />
<line x1="236.60" y1="256.40" x2="239.80" y2="256.40" stroke="#242424" stroke-width="0.7" />
<line x1="247.70" y1="267.50" x2="247.70" y2="281.50" stroke="#242424" stroke-width="0.7" />
<line x1="246.10" y1="267.50" x2="249.30" y2="267.50" stroke="#242424" stroke-width="0.7" />
<line x1="246.10" y1="281.50" x2="249.30" y2="281.50" stroke="#242424" stroke-width="0.7" />
<line x1="257.30" y1="288.70" x2="257.30" y2="313.00" stroke="#242424" stroke-width="0.7" />
<line x1="255.70" y1="288.70" x2="258.90" y2="288.70" stroke="#242424" stroke-width="0.7" />
<line x1="255.70" y1="313.00" x2="258.90" y2="313.00" stroke="#242424" stroke-width="0.7" />
<line x1="149.60" y1="259.00" x2="149.60" y2="400.50" stroke="#444" stroke-width="0.8" stroke-dasharray="2.2 1.6"/>
<text x="22.50" y="273.90" font-size="7.4" font-weight="normal" fill="#262626" text-anchor="end"  stroke="#262626" stroke-width="0.22">0.2</text>
<text x="22.50" y="342.40" font-size="7.4" font-weight="normal" fill="#262626" text-anchor="end"  stroke="#262626" stroke-width="0.22">-0.2</text>
<text x="22.50" y="376.60" font-size="7.4" font-weight="normal" fill="#262626" text-anchor="end"  stroke="#262626" stroke-width="0.22">-0.4</text>
<text transform="translate(18.0,307) rotate(-90)" font-size="9.2" text-anchor="middle" textLength="22.3" lengthAdjust="spacingAndGlyphs" fill="#111" stroke="#111" stroke-width="0.25">p.s.c.</text>
<text x="11.00" y="247.10" font-size="15.8" font-weight="bold" fill="#000" text-anchor="start" textLength="13.30" lengthAdjust="spacingAndGlyphs"  stroke="#000" stroke-width="0.12">B.</text>
<text x="101.80" y="245.40" font-size="13" font-weight="bold" fill="#000" text-anchor="start" textLength="77.50" lengthAdjust="spacingAndGlyphs"  stroke="#000" stroke-width="0.12">older children</text>
<line x1="79.70" y1="326.50" x2="88.80" y2="326.50" stroke="#000" stroke-width="1.3" />
<circle cx="79.70" cy="326.50" r="2.25" fill="#000"/>
<circle cx="88.80" cy="326.50" r="2.25" fill="#000"/>
<line x1="118.60" y1="326.50" x2="128.50" y2="326.50" stroke="#000" stroke-width="1.3" />
<circle cx="118.60" cy="326.50" r="2.25" fill="#000"/>
<circle cx="128.50" cy="326.50" r="2.25" fill="#000"/>
<line x1="158.30" y1="325.90" x2="167.30" y2="325.90" stroke="#000" stroke-width="1.3" />
<circle cx="158.30" cy="325.90" r="2.25" fill="#000"/>
<circle cx="167.30" cy="325.90" r="2.25" fill="#000"/>
<line x1="196.70" y1="325.90" x2="208.60" y2="325.90" stroke="#000" stroke-width="1.3" />
<circle cx="196.70" cy="325.90" r="2.25" fill="#000"/>
<circle cx="208.60" cy="325.90" r="2.25" fill="#000"/>
<line x1="236.90" y1="325.90" x2="246.40" y2="325.90" stroke="#000" stroke-width="1.3" />
<circle cx="236.90" cy="325.90" r="2.25" fill="#000"/>
<circle cx="246.40" cy="325.90" r="2.25" fill="#000"/>
<line x1="158.30" y1="339.70" x2="180.50" y2="339.70" stroke="#000" stroke-width="1.3" />
<circle cx="158.30" cy="339.70" r="2.25" fill="#000"/>
<circle cx="180.50" cy="339.70" r="2.25" fill="#000"/>
<line x1="196.70" y1="339.70" x2="219.70" y2="339.70" stroke="#000" stroke-width="1.3" />
<circle cx="196.70" cy="339.70" r="2.25" fill="#000"/>
<circle cx="219.70" cy="339.70" r="2.25" fill="#000"/>
<line x1="236.90" y1="339.70" x2="259.40" y2="339.70" stroke="#000" stroke-width="1.3" />
<circle cx="236.90" cy="339.70" r="2.25" fill="#000"/>
<circle cx="259.40" cy="339.70" r="2.25" fill="#000"/>
<text x="45.00" y="378.20" font-size="12.4" font-weight="normal" fill="#000" text-anchor="start" textLength="26.30" lengthAdjust="spacingAndGlyphs"  stroke="#000" stroke-width="0.22">head</text>
<text x="79.70" y="378.20" font-size="12.4" font-weight="normal" fill="#000" text-anchor="start" textLength="25.90" lengthAdjust="spacingAndGlyphs"  stroke="#000" stroke-width="0.22">body</text>
<text x="116.60" y="378.20" font-size="12.4" font-weight="normal" fill="#000" text-anchor="start" textLength="16.30" lengthAdjust="spacingAndGlyphs"  stroke="#000" stroke-width="0.22">tail</text>
<text x="80.40" y="393.50" font-size="11" font-weight="bold" fill="#000" text-anchor="start" textLength="17.60" lengthAdjust="spacingAndGlyphs"  stroke="#000" stroke-width="0.12">low</text>
<text x="160.90" y="378.20" font-size="12.4" font-weight="normal" fill="#000" text-anchor="start" textLength="27.00" lengthAdjust="spacingAndGlyphs"  stroke="#000" stroke-width="0.22">head</text>
<text x="198.50" y="378.20" font-size="12.4" font-weight="normal" fill="#000" text-anchor="start" textLength="26.50" lengthAdjust="spacingAndGlyphs"  stroke="#000" stroke-width="0.22">body</text>
<text x="242.20" y="378.20" font-size="12.4" font-weight="normal" fill="#000" text-anchor="start" textLength="16.40" lengthAdjust="spacingAndGlyphs"  stroke="#000" stroke-width="0.22">tail</text>
<text x="199.30" y="393.50" font-size="11" font-weight="bold" fill="#000" text-anchor="start" textLength="20.90" lengthAdjust="spacingAndGlyphs"  stroke="#000" stroke-width="0.12">high</text>
<rect x="313.90" y="300.80" width="9.50" height="4.80" fill="#404040" />
<rect x="323.40" y="305.60" width="9.50" height="17.70" fill="url(#pm)" />
<rect x="332.90" y="305.60" width="9.50" height="44.10" fill="url(#pl)" />
<rect x="352.30" y="268.30" width="9.50" height="37.30" fill="#404040" />
<rect x="361.80" y="290.80" width="9.50" height="14.80" fill="url(#pm)" />
<rect x="371.30" y="305.60" width="9.50" height="34.10" fill="url(#pl)" />
<rect x="390.90" y="273.30" width="9.50" height="32.30" fill="#404040" />
<rect x="400.40" y="288.70" width="9.50" height="16.90" fill="url(#pm)" />
<rect x="409.90" y="305.60" width="9.50" height="16.40" fill="url(#pl)" />
<rect x="434.20" y="305.60" width="9.50" height="1.40" fill="#404040" />
<rect x="443.70" y="305.60" width="9.50" height="32.20" fill="url(#pm)" />
<rect x="453.20" y="305.60" width="9.50" height="21.70" fill="url(#pl)" />
<rect x="472.00" y="269.20" width="9.67" height="36.40" fill="#404040" />
<rect x="481.67" y="285.20" width="9.67" height="20.40" fill="url(#pm)" />
<rect x="491.34" y="281.90" width="9.67" height="23.70" fill="url(#pl)" />
<rect x="510.70" y="276.80" width="9.50" height="28.80" fill="#404040" />
<rect x="520.20" y="281.20" width="9.50" height="24.40" fill="url(#pm)" />
<rect x="529.70" y="273.00" width="9.50" height="32.60" fill="url(#pl)" />
<line x1="306.80" y1="258.50" x2="306.80" y2="376.50" stroke="#a6a6a6" stroke-width="0.9" />
<line x1="304.40" y1="305.60" x2="546.70" y2="305.60" stroke="#a6a6a6" stroke-width="0.9" />
<line x1="546.70" y1="305.60" x2="546.70" y2="309.10" stroke="#a6a6a6" stroke-width="0.9" />
<line x1="304.40" y1="270.20" x2="306.80" y2="270.20" stroke="#a6a6a6" stroke-width="0.9" />
<line x1="304.40" y1="341.00" x2="306.80" y2="341.00" stroke="#a6a6a6" stroke-width="0.9" />
<line x1="304.40" y1="376.50" x2="306.80" y2="376.50" stroke="#a6a6a6" stroke-width="0.9" />
<line x1="318.70" y1="293.40" x2="318.70" y2="308.00" stroke="#242424" stroke-width="0.7" />
<line x1="317.10" y1="293.40" x2="320.30" y2="293.40" stroke="#242424" stroke-width="0.7" />
<line x1="317.10" y1="308.00" x2="320.30" y2="308.00" stroke="#242424" stroke-width="0.7" />
<line x1="328.20" y1="316.40" x2="328.20" y2="329.10" stroke="#242424" stroke-width="0.7" />
<line x1="326.60" y1="316.40" x2="329.80" y2="316.40" stroke="#242424" stroke-width="0.7" />
<line x1="326.60" y1="329.10" x2="329.80" y2="329.10" stroke="#242424" stroke-width="0.7" />
<line x1="337.70" y1="339.20" x2="337.70" y2="361.40" stroke="#242424" stroke-width="0.7" />
<line x1="336.10" y1="339.20" x2="339.30" y2="339.20" stroke="#242424" stroke-width="0.7" />
<line x1="336.10" y1="361.40" x2="339.30" y2="361.40" stroke="#242424" stroke-width="0.7" />
<line x1="357.00" y1="259.00" x2="357.00" y2="277.00" stroke="#242424" stroke-width="0.7" />
<line x1="355.40" y1="259.00" x2="358.60" y2="259.00" stroke="#242424" stroke-width="0.7" />
<line x1="355.40" y1="277.00" x2="358.60" y2="277.00" stroke="#242424" stroke-width="0.7" />
<line x1="366.60" y1="285.00" x2="366.60" y2="297.20" stroke="#242424" stroke-width="0.7" />
<line x1="365.00" y1="285.00" x2="368.20" y2="285.00" stroke="#242424" stroke-width="0.7" />
<line x1="365.00" y1="297.20" x2="368.20" y2="297.20" stroke="#242424" stroke-width="0.7" />
<line x1="376.30" y1="326.50" x2="376.30" y2="353.50" stroke="#242424" stroke-width="0.7" />
<line x1="374.70" y1="326.50" x2="377.90" y2="326.50" stroke="#242424" stroke-width="0.7" />
<line x1="374.70" y1="353.50" x2="377.90" y2="353.50" stroke="#242424" stroke-width="0.7" />
<line x1="395.70" y1="267.50" x2="395.70" y2="278.40" stroke="#242424" stroke-width="0.7" />
<line x1="394.10" y1="267.50" x2="397.30" y2="267.50" stroke="#242424" stroke-width="0.7" />
<line x1="394.10" y1="278.40" x2="397.30" y2="278.40" stroke="#242424" stroke-width="0.7" />
<line x1="405.20" y1="284.70" x2="405.20" y2="292.70" stroke="#242424" stroke-width="0.7" />
<line x1="403.60" y1="284.70" x2="406.80" y2="284.70" stroke="#242424" stroke-width="0.7" />
<line x1="403.60" y1="292.70" x2="406.80" y2="292.70" stroke="#242424" stroke-width="0.7" />
<line x1="414.50" y1="315.30" x2="414.50" y2="327.80" stroke="#242424" stroke-width="0.7" />
<line x1="412.90" y1="315.30" x2="416.10" y2="315.30" stroke="#242424" stroke-width="0.7" />
<line x1="412.90" y1="327.80" x2="416.10" y2="327.80" stroke="#242424" stroke-width="0.7" />
<line x1="438.70" y1="299.80" x2="438.70" y2="313.80" stroke="#242424" stroke-width="0.7" />
<line x1="437.10" y1="299.80" x2="440.30" y2="299.80" stroke="#242424" stroke-width="0.7" />
<line x1="437.10" y1="313.80" x2="440.30" y2="313.80" stroke="#242424" stroke-width="0.7" />
<line x1="448.40" y1="333.00" x2="448.40" y2="343.70" stroke="#242424" stroke-width="0.7" />
<line x1="446.80" y1="333.00" x2="450.00" y2="333.00" stroke="#242424" stroke-width="0.7" />
<line x1="446.80" y1="343.70" x2="450.00" y2="343.70" stroke="#242424" stroke-width="0.7" />
<line x1="457.90" y1="321.20" x2="457.90" y2="334.40" stroke="#242424" stroke-width="0.7" />
<line x1="456.30" y1="321.20" x2="459.50" y2="321.20" stroke="#242424" stroke-width="0.7" />
<line x1="456.30" y1="334.40" x2="459.50" y2="334.40" stroke="#242424" stroke-width="0.7" />
<line x1="477.30" y1="260.00" x2="477.30" y2="278.10" stroke="#242424" stroke-width="0.7" />
<line x1="475.70" y1="260.00" x2="478.90" y2="260.00" stroke="#242424" stroke-width="0.7" />
<line x1="475.70" y1="278.10" x2="478.90" y2="278.10" stroke="#242424" stroke-width="0.7" />
<line x1="486.80" y1="279.40" x2="486.80" y2="290.30" stroke="#242424" stroke-width="0.7" />
<line x1="485.20" y1="279.40" x2="488.40" y2="279.40" stroke="#242424" stroke-width="0.7" />
<line x1="485.20" y1="290.30" x2="488.40" y2="290.30" stroke="#242424" stroke-width="0.7" />
<line x1="496.50" y1="272.50" x2="496.50" y2="290.30" stroke="#242424" stroke-width="0.7" />
<line x1="494.90" y1="272.50" x2="498.10" y2="272.50" stroke="#242424" stroke-width="0.7" />
<line x1="494.90" y1="290.30" x2="498.10" y2="290.30" stroke="#242424" stroke-width="0.7" />
<line x1="515.30" y1="271.20" x2="515.30" y2="281.90" stroke="#242424" stroke-width="0.7" />
<line x1="513.70" y1="271.20" x2="516.90" y2="271.20" stroke="#242424" stroke-width="0.7" />
<line x1="513.70" y1="281.90" x2="516.90" y2="281.90" stroke="#242424" stroke-width="0.7" />
<line x1="525.00" y1="276.80" x2="525.00" y2="284.50" stroke="#242424" stroke-width="0.7" />
<line x1="523.40" y1="276.80" x2="526.60" y2="276.80" stroke="#242424" stroke-width="0.7" />
<line x1="523.40" y1="284.50" x2="526.60" y2="284.50" stroke="#242424" stroke-width="0.7" />
<line x1="534.50" y1="265.60" x2="534.50" y2="280.10" stroke="#242424" stroke-width="0.7" />
<line x1="532.90" y1="265.60" x2="536.10" y2="265.60" stroke="#242424" stroke-width="0.7" />
<line x1="532.90" y1="280.10" x2="536.10" y2="280.10" stroke="#242424" stroke-width="0.7" />
<line x1="424.60" y1="262.80" x2="424.60" y2="404.00" stroke="#444" stroke-width="0.8" stroke-dasharray="2.2 1.6"/>
<text x="299.30" y="272.80" font-size="7.4" font-weight="normal" fill="#262626" text-anchor="end"  stroke="#262626" stroke-width="0.22">0.2</text>
<text x="299.30" y="343.60" font-size="7.4" font-weight="normal" fill="#262626" text-anchor="end"  stroke="#262626" stroke-width="0.22">-0.2</text>
<text x="299.30" y="379.10" font-size="7.4" font-weight="normal" fill="#262626" text-anchor="end"  stroke="#262626" stroke-width="0.22">-0.4</text>
<text transform="translate(294.4,307) rotate(-90)" font-size="9.2" text-anchor="middle" textLength="22.3" lengthAdjust="spacingAndGlyphs" fill="#111" stroke="#111" stroke-width="0.25">p.s.c.</text>
<text x="287.40" y="250.30" font-size="16.2" font-weight="bold" fill="#000" text-anchor="start" textLength="13.20" lengthAdjust="spacingAndGlyphs"  stroke="#000" stroke-width="0.12">C.</text>
<text x="400.90" y="243.20" font-size="13" font-weight="bold" fill="#000" text-anchor="start" textLength="34.30" lengthAdjust="spacingAndGlyphs"  stroke="#000" stroke-width="0.12">adults</text>
<line x1="318.70" y1="317.70" x2="328.70" y2="317.70" stroke="#000" stroke-width="1.3" />
<circle cx="318.70" cy="317.70" r="2.25" fill="#000"/>
<circle cx="328.70" cy="317.70" r="2.25" fill="#000"/>
<line x1="356.30" y1="317.70" x2="365.80" y2="317.70" stroke="#000" stroke-width="1.3" />
<circle cx="356.30" cy="317.70" r="2.25" fill="#000"/>
<circle cx="365.80" cy="317.70" r="2.25" fill="#000"/>
<line x1="394.90" y1="317.70" x2="404.40" y2="317.70" stroke="#000" stroke-width="1.3" />
<circle cx="394.90" cy="317.70" r="2.25" fill="#000"/>
<circle cx="404.40" cy="317.70" r="2.25" fill="#000"/>
<line x1="364.40" y1="327.10" x2="374.50" y2="327.10" stroke="#000" stroke-width="1.3" />
<circle cx="364.40" cy="327.10" r="2.25" fill="#000"/>
<circle cx="374.50" cy="327.10" r="2.25" fill="#000"/>
<line x1="403.80" y1="327.10" x2="413.90" y2="327.10" stroke="#000" stroke-width="1.3" />
<circle cx="403.80" cy="327.10" r="2.25" fill="#000"/>
<circle cx="413.90" cy="327.10" r="2.25" fill="#000"/>
<line x1="319.20" y1="336.50" x2="340.40" y2="335.50" stroke="#000" stroke-width="1.3" />
<circle cx="319.20" cy="336.50" r="2.25" fill="#000"/>
<circle cx="340.40" cy="335.50" r="2.25" fill="#000"/>
<line x1="353.30" y1="335.80" x2="376.30" y2="335.80" stroke="#000" stroke-width="1.3" />
<circle cx="353.30" cy="335.80" r="2.25" fill="#000"/>
<circle cx="376.30" cy="335.80" r="2.25" fill="#000"/>
<line x1="390.90" y1="336.50" x2="414.20" y2="336.50" stroke="#000" stroke-width="1.3" />
<circle cx="390.90" cy="336.50" r="2.25" fill="#000"/>
<circle cx="414.20" cy="336.50" r="2.25" fill="#000"/>
<line x1="435.80" y1="317.60" x2="445.20" y2="317.60" stroke="#000" stroke-width="1.3" />
<circle cx="435.80" cy="317.60" r="2.25" fill="#000"/>
<circle cx="445.20" cy="317.60" r="2.25" fill="#000"/>
<text x="313.40" y="378.70" font-size="12.4" font-weight="normal" fill="#000" text-anchor="start" textLength="26.40" lengthAdjust="spacingAndGlyphs"  stroke="#000" stroke-width="0.22">head</text>
<text x="351.00" y="378.70" font-size="12.4" font-weight="normal" fill="#000" text-anchor="start" textLength="25.90" lengthAdjust="spacingAndGlyphs"  stroke="#000" stroke-width="0.22">body</text>
<text x="394.10" y="378.70" font-size="12.4" font-weight="normal" fill="#000" text-anchor="start" textLength="16.40" lengthAdjust="spacingAndGlyphs"  stroke="#000" stroke-width="0.22">tail</text>
<text x="357.60" y="395.30" font-size="11" font-weight="bold" fill="#000" text-anchor="start" textLength="18.00" lengthAdjust="spacingAndGlyphs"  stroke="#000" stroke-width="0.12">low</text>
<text x="439.10" y="378.70" font-size="12.4" font-weight="normal" fill="#000" text-anchor="start" textLength="26.50" lengthAdjust="spacingAndGlyphs"  stroke="#000" stroke-width="0.22">head</text>
<text x="476.20" y="378.70" font-size="12.4" font-weight="normal" fill="#000" text-anchor="start" textLength="26.40" lengthAdjust="spacingAndGlyphs"  stroke="#000" stroke-width="0.22">body</text>
<text x="516.60" y="378.70" font-size="12.4" font-weight="normal" fill="#000" text-anchor="start" textLength="16.40" lengthAdjust="spacingAndGlyphs"  stroke="#000" stroke-width="0.22">tail</text>
<text x="476.20" y="395.30" font-size="11" font-weight="bold" fill="#000" text-anchor="start" textLength="20.60" lengthAdjust="spacingAndGlyphs"  stroke="#000" stroke-width="0.12">high</text>
</svg></body></html>
